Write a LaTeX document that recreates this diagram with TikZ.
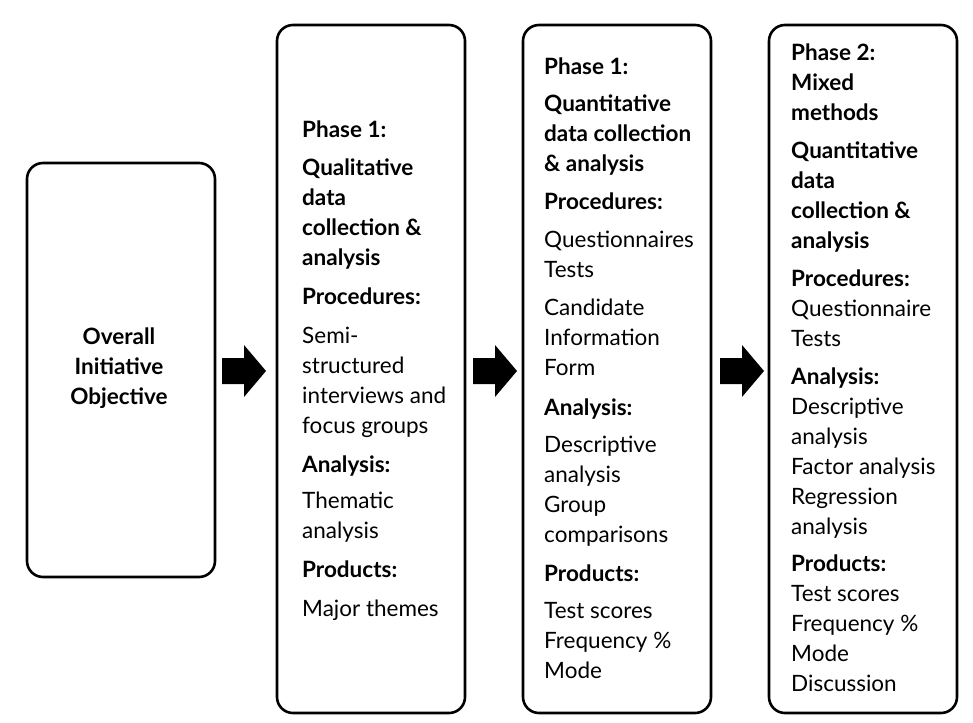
\documentclass[tikz,border=0pt]{standalone}
\usepackage{fontspec}
\setmainfont{Lato}
\begin{document}
\begin{tikzpicture}[x=1pt,y=-1pt,
 box/.style={draw=black,line width=2.6pt,rounded corners=16pt},
 txt/.style={anchor=north west,inner sep=0pt,align=left,font=\fontsize{22.5}{30}\selectfont},
 barr/.style={fill=black}]
\useasboundingbox (0,0) rectangle (973,722);
\draw[box] (27,163) rectangle (215,577);
\draw[box] (277,25) rectangle (465,713);
\draw[box] (523,25) rectangle (711,713);
\draw[box] (769,25) rectangle (957,713);
\node[font=\fontsize{22.5}{30}\selectfont\bfseries,align=center] (t0) at (119,368) {Overall\\Initiative\\Objective};
\foreach \x/\n in {222/a1,473/a2,720/a3}{
 \fill[barr] (\x,358) -- (\x+22,358) -- (\x+22,345) -- (\x+44,371) -- (\x+22,397) -- (\x+22,384) -- (\x,384) -- cycle;
}
\node[txt] (t1) at (302,121) {\textbf{Phase 1:}\\[8pt]
\textbf{Qualitative}\\\textbf{data}\\\textbf{collection \&}\\\textbf{analysis}\\[9pt]
\textbf{Procedures:}\\[9pt]
Semi-\\structured\\interviews and\\focus groups\\[9pt]
\textbf{Analysis:}\\[6pt]
Thematic\\analysis\\[9pt]
\textbf{Products:}\\[9pt]
Major themes};
\node[txt] (t2) at (544,58) {\textbf{Phase 1:}\\[7pt]
\textbf{Quantitative}\\\textbf{data collection}\\\textbf{\& analysis}\\[8pt]
\textbf{Procedures:}\\[8pt]
Questionnaires\\Tests\\[8pt]
Candidate\\Information\\Form\\[10pt]
\textbf{Analysis:}\\[7pt]
Descriptive\\analysis\\Group\\comparisons\\[9pt]
\textbf{Products:}\\[7pt]
Test scores\\Frequency \%\\Mode};
\node[txt] (t3) at (791,44) {\textbf{Phase 2:}\\\textbf{Mixed}\\\textbf{methods}\\[8pt]
\textbf{Quantitative}\\\textbf{data}\\\textbf{collection \&}\\\textbf{analysis}\\[8pt]
\textbf{Procedures:}\\
Questionnaire\\Tests\\[8pt]
\textbf{Analysis:}\\
Descriptive\\analysis\\Factor analysis\\Regression\\analysis\\[7pt]
\textbf{Products:}\\
Test scores\\Frequency \%\\Mode\\Discussion};
\end{tikzpicture}
\end{document}
